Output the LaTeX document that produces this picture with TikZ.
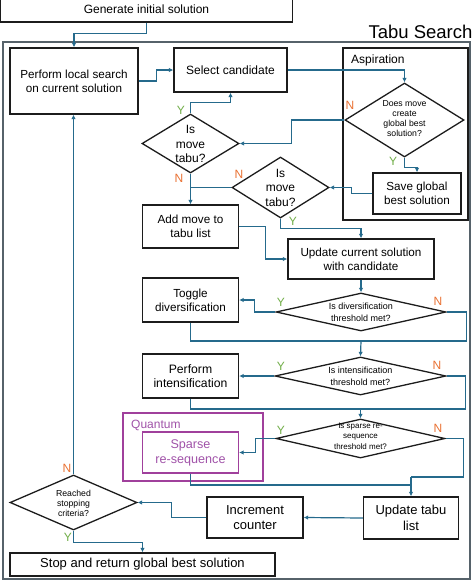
\documentclass[tikz,border=0pt]{standalone}
\usepackage{fontspec}
\setmainfont{Liberation Sans}
\usetikzlibrary{arrows.meta,shapes.geometric}
\definecolor{ln}{HTML}{256A8C}
\definecolor{bx}{HTML}{1C1C1C}
\definecolor{frm}{HTML}{56626A}
\definecolor{ygr}{HTML}{70AD47}
\definecolor{nor}{HTML}{E97132}
\definecolor{mag}{HTML}{A0409C}
\definecolor{magt}{HTML}{A052A8}
\newcommand\myfs[2]{\fontsize{#1pt}{#2pt}\selectfont}
\tikzset{
  box/.style={draw=bx,line width=1.3pt,rectangle,inner sep=0pt,align=center,font=\myfs{11.7}{14}},
  dia/.style={draw=bx,line width=1.3pt,diamond,inner sep=0pt},
  dtext/.style={align=center,inner sep=0pt},
  con/.style={ln,line width=1.2pt},
  arr/.style={con,-{Latex[length=4.5pt,width=4.5pt]}},
  ylab/.style={text=ygr,font=\myfs{12}{14},inner sep=0pt},
  nlab/.style={text=nor,font=\myfs{12}{14},inner sep=0pt}
}
\begin{document}
\begin{tikzpicture}[x=1pt,y=-1pt]
\useasboundingbox (0,0) rectangle (474,582);
% frame
\draw[frm,line width=2.6pt] (3,42) rectangle (470,579);
\node[font=\myfs{18.5}{20},inner sep=0pt] (title) at (420.5,32) {Tabu Search};
% boxes
\node[box,minimum width=292pt,minimum height=25pt,font=\myfs{12}{14}] (gen) at (146.5,9.5) {Generate initial solution};
\node[box,minimum width=128pt,minimum height=66pt] (pls) at (74,81) {Perform local search\\on current solution};
\node[box,minimum width=113pt,minimum height=44pt,font=\myfs{12}{14}] (sel) at (230.5,70) {Select candidate};
\draw[bx,line width=1.3pt] (343,48) rectangle (468,220);
\node[anchor=west,font=\myfs{12}{14},inner sep=0pt] (aspl) at (351,60) {Aspiration};
\node[dia,minimum width=119pt,minimum height=74pt] (dasp) at (404.5,120) {};
\node[dtext,font=\myfs{8.7}{10}] (daspt) at (404.5,119) {Does move\\create\\global best\\solution?};
\node[box,minimum width=88pt,minimum height=41pt] (save) at (417,193.5) {Save global\\best solution};
\node[dia,minimum width=97pt,minimum height=59pt] (d1) at (190.5,143.5) {};
\node[dtext,font=\myfs{12}{14.5}] (d1t) at (190.5,144) {Is\\move\\tabu?};
\node[dia,minimum width=97pt,minimum height=61pt] (d2) at (280.5,187.5) {};
\node[dtext,font=\myfs{12}{14.5}] (d2t) at (280.5,187.5) {Is\\move\\tabu?};
\node[box,minimum width=96pt,minimum height=43pt] (addm) at (190.5,226.5) {Add move to\\tabu list};
\node[box,minimum width=146pt,minimum height=40pt] (upd) at (361,259) {Update current solution\\with candidate};
\node[box,minimum width=96pt,minimum height=44pt] (tog) at (190.5,300) {Toggle\\diversification};
\node[dia,minimum width=170pt,minimum height=38pt] (d3) at (361,312) {};
\node[dtext,font=\myfs{9}{12}] (d3t) at (361,312) {Is diversification\\threshold met?};
\node[box,minimum width=96pt,minimum height=44pt,font=\myfs{12.2}{14}] (pint) at (190.5,376) {Perform\\intensification};
\node[dia,minimum width=171pt,minimum height=38pt] (d4) at (360.5,376) {};
\node[dtext,font=\myfs{9}{12}] (d4t) at (360.5,376) {Is intensification\\threshold met?};
\draw[mag,line width=1.3pt] (123,413) rectangle (263,481);
\node[anchor=west,text=magt,font=\myfs{12}{14},inner sep=0pt] (ql) at (131,425) {Quantum};
\node[box,draw=mag,text=magt,minimum width=96pt,minimum height=41pt,font=\myfs{12.6}{15}] (sparse) at (190.5,452.5) {Sparse\\re-sequence};
\node[dia,minimum width=169pt,minimum height=39pt] (d5) at (360.5,438.5) {};
\node[dtext,font=\myfs{8}{10.5}] (d5t) at (360.5,436) {Is sparse re-\\sequence\\threshold met?};
\node[box,minimum width=95pt,minimum height=42pt,font=\myfs{13}{15.5}] (updt) at (411,518) {Update tabu\\list};
\node[box,minimum width=96pt,minimum height=41pt,font=\myfs{13}{15.5}] (inc) at (255,517.5) {Increment\\counter};
\node[dia,minimum width=127pt,minimum height=55pt] (dr) at (73.5,502.5) {};
\node[dtext,font=\myfs{8.7}{10}] (drt) at (73.5,503) {Reached\\stopping\\criteria?};
\node[box,minimum width=265pt,minimum height=23pt,font=\myfs{13}{15}] (stop) at (142.5,564.5) {Stop and return global best solution};
% junction coordinates
\coordinate (j1) at (361,341);
\coordinate (j2) at (360.5,409);
\coordinate (j3) at (411,477);
\coordinate (j4) at (411,485);
% connectors
\draw[arr] (gen.south) -- ++(0,11) -| (pls.north);
\draw[arr] (pls.east) -- ++(18,0) |- (sel.west);
\draw[arr] (sel.east) -| (dasp.north);
\draw[arr] (dasp.west) -- ++(-53,0) |- (d1.east);
\draw[arr] (d1.north) -- ++(0,-11) -| (sel.south);
\draw[arr] (d1.south) -- (addm.north);
\draw[con] (d2.west) -- (d2.west -| d1.south);
\draw[arr] (save.west) -- ++(-21,0) |- (d2.east);
\draw[arr] (dasp.south) -- ++(0,10) -| (save.north);
\draw[arr] (d2.south) -- ++(0,10) -| (upd.north);
\draw[arr] (addm.east) -- ++(26,0) |- (upd.west);
\draw[arr] (upd.south) -- (d3.north);
\draw[arr] (d3.west) -- ++(-21,0) |- (tog.east);
\draw[con] (d3.east) -- ++(20,0) |- (j1);
\draw[con] (tog.south) |- (j1);
\draw[arr] (j1) -- (d4.north);
\draw[arr] (d4.west) -- (pint.east);
\draw[con] (d4.east) -- ++(19,0) |- (j2);
\draw[con] (pint.south) |- (j2);
\draw[arr] (j2) -- (d5.north);
\draw[arr] (d5.west) -- ++(-20,0) |- (sparse.east);
\draw[con] (d5.east) -- ++(18,0) |- (j3);
\draw[con] (sparse.south) |- (j4);
\draw[arr] (j3) -- (updt.north);
\draw[arr] (updt.west) -- (inc.east);
\draw[arr] (inc.west) -- ++(-35,0) |- (dr.east);
\draw[arr] (dr.north) -- (dr.north |- pls.south);
\draw[arr] (dr.south) -- ++(0,12) -| (stop.north);
% labels
\node[ylab] (y1) at (181,110) {Y};
\node[nlab] (n1) at (179,178) {N};
\node[nlab] (n2) at (239,174) {N};
\node[ylab] (y2) at (293,221) {Y};
\node[nlab] (n0) at (350,105) {N};
\node[ylab] (y0) at (393,161) {Y};
\node[ylab] (y3) at (281,302) {Y};
\node[nlab] (n3) at (438,301) {N};
\node[ylab] (y4) at (281,366) {Y};
\node[nlab] (n4) at (437,365) {N};
\node[ylab] (y5) at (281,430) {Y};
\node[nlab] (n5) at (438,428) {N};
\node[nlab] (n6) at (67,468) {N};
\node[ylab] (y6) at (68,537) {Y};
\end{tikzpicture}
\end{document}
